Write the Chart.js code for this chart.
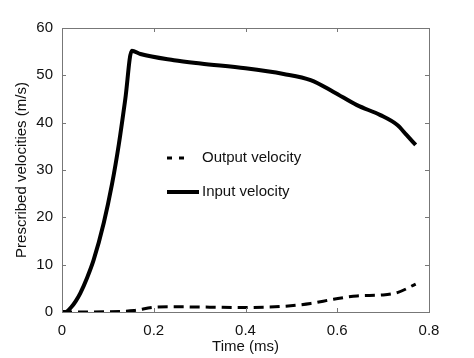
<!DOCTYPE html>
<html>
<head>
<meta charset="utf-8">
<script src="https://cdn.jsdelivr.net/npm/chart.js@4.4.1/dist/chart.umd.min.js"></script>
<style>
  html, body { margin: 0; padding: 0; background: #fff; }
  #wrap { width: 474px; height: 358px; }
</style>
</head>
<body>
<div id="wrap"><canvas id="c" width="474" height="358"></canvas></div>
<script>
// ---- data ----
const inputTime     = [0, 0.008, 0.020, 0.030, 0.040, 0.055, 0.069, 0.091, 0.109, 0.124, 0.138, 0.152, 0.171, 0.244, 0.302, 0.400, 0.483, 0.542, 0.592, 0.643, 0.694, 0.731, 0.751, 0.771];
const inputVelocity = [0, 0,     1.0,   2.3,   4.0,   7.3,   11.0,  18.8,  27.0,  35.5,  45.0,  55.2,  54.5,  53.2,  52.5,  51.5,  50.3,  49.0,  46.5,  43.7,  41.6,  39.5,  37.4,  35.3];
const outputTime     = [0, 0.100, 0.157, 0.200, 0.244, 0.400, 0.483, 0.542, 0.592, 0.643, 0.700, 0.731, 0.771];
const outputVelocity = [0, 0.05,  0.3,   1.0,   1.1,   0.95,  1.2,   1.8,   2.7,   3.4,   3.6,   4.1,   5.9];
const xTicks = [0, 0.2, 0.4, 0.6, 0.8];
const yTicks = [0, 10, 20, 30, 40, 50, 60];
const seriesNames = ['Output velocity', 'Input velocity'];

const toXY = (xs, ys) => xs.map((x, i) => ({ x: x, y: ys[i] }));
const FONT = '"Liberation Sans", Arial, Helvetica, sans-serif';
const FRAME = '#777';

const frameTicks = {
  id: 'frameTicks',
  afterDatasetsDraw(chart) {
    const { ctx, chartArea: a, scales } = chart;
    ctx.save();
    ctx.strokeStyle = FRAME;
    ctx.lineWidth = 1;
    ctx.strokeRect(Math.round(a.left) + 0.5, Math.round(a.top) + 0.5,
                   Math.round(a.right - a.left), Math.round(a.bottom - a.top));
    const L = 4;
    ctx.beginPath();
    xTicks.forEach(v => {
      const px = Math.round(scales.x.getPixelForValue(v)) + 0.5;
      ctx.moveTo(px, a.bottom); ctx.lineTo(px, a.bottom - L);
      ctx.moveTo(px, a.top); ctx.lineTo(px, a.top + L);
    });
    yTicks.forEach(v => {
      const py = Math.round(scales.y.getPixelForValue(v)) + 0.5;
      ctx.moveTo(a.left, py); ctx.lineTo(a.left + L, py);
      ctx.moveTo(a.right, py); ctx.lineTo(a.right - L, py);
    });
    ctx.stroke();

    // legend inside plot
    const lx = a.left + 105;
    const rows = [
      { y: a.top + 130, dash: [5, 7], w: 3, len: 18, label: seriesNames[0] },
      { y: a.top + 164, dash: [], w: 4, len: 32, label: seriesNames[1] }
    ];
    ctx.fillStyle = '#111';
    ctx.font = '15px ' + FONT;
    ctx.textBaseline = 'middle';
    rows.forEach(r => {
      ctx.beginPath();
      ctx.setLineDash(r.dash);
      ctx.strokeStyle = '#000';
      ctx.lineWidth = r.w;
      ctx.moveTo(lx, r.y); ctx.lineTo(lx + r.len, r.y);
      ctx.stroke();
      ctx.setLineDash([]);
      ctx.fillText(r.label, lx + 35, r.y);
    });
    ctx.restore();
  }
};

new Chart(document.getElementById('c'), {
  type: 'line',
  data: {
    datasets: [
      {
        label: seriesNames[0],
        data: toXY(outputTime, outputVelocity),
        borderColor: '#000',
        borderWidth: 3,
        borderDash: [10, 6],
        pointRadius: 0,
        cubicInterpolationMode: 'monotone',
        fill: false
      },
      {
        label: seriesNames[1],
        data: toXY(inputTime, inputVelocity),
        borderColor: '#000',
        borderWidth: 4,
        pointRadius: 0,
        cubicInterpolationMode: 'monotone',
        fill: false
      }
    ]
  },
  options: {
    responsive: false,
    animation: false,
    devicePixelRatio: 1,
    layout: { padding: { top: 28, right: 45, left: 0, bottom: 0 } },
    plugins: { legend: { display: false }, tooltip: { enabled: false } },
    scales: {
      x: {
        type: 'linear', min: 0, max: 0.8,
        afterBuildTicks: s => { s.ticks = xTicks.map(v => ({ value: v })); },
        afterFit: s => { s.height = 46; },
        grid: { display: false, drawTicks: false },
        border: { display: false },
        ticks: {
          color: '#111', padding: 10,
          font: { family: FONT, size: 15 },
          callback: v => String(v)
        },
        title: {
          display: true, text: 'Time (ms)', color: '#111',
          font: { family: FONT, size: 15 },
          padding: { top: 0, bottom: 2 }
        }
      },
      y: {
        type: 'linear', min: 0, max: 60,
        afterBuildTicks: s => { s.ticks = yTicks.map(v => ({ value: v })); },
        afterFit: s => { s.width = 62; },
        grid: { display: false, drawTicks: false },
        border: { display: false },
        ticks: {
          color: '#111', padding: 9,
          font: { family: FONT, size: 15 }
        },
        title: {
          display: true, text: 'Prescribed velocities (m/s)', color: '#111',
          font: { family: FONT, size: 15 },
          padding: { top: 13, bottom: 0 }
        }
      }
    }
  },
  plugins: [frameTicks]
});
</script>
</body>
</html>
